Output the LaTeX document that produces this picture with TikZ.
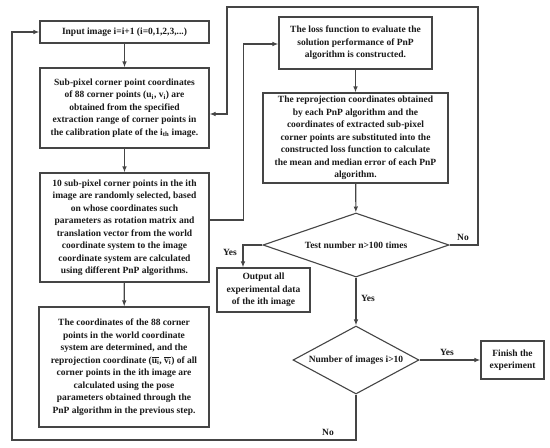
\documentclass[tikz,border=0pt]{standalone}
\usepackage{fontspec}
\setmainfont{Liberation Serif}
\usetikzlibrary{arrows.meta,shapes.geometric,calc}
\definecolor{ln}{HTML}{454545}
\definecolor{tx}{HTML}{1A1A1A}
\begin{document}
\begin{tikzpicture}[x=1pt,y=-1pt,
  font=\fontsize{9.5}{12.5}\selectfont\bfseries,
  box/.style={draw=ln,line width=1.1pt,rectangle,align=center,text=tx,inner sep=1pt},
  dia/.style={draw=ln,line width=1.1pt,diamond,align=center,text=tx,inner sep=0pt},
  arr/.style={draw=ln,line width=1.1pt,-{Latex[length=6pt,width=4.5pt]}},
  lab/.style={text=tx,inner sep=0pt}]
\useasboundingbox (0,0) rectangle (550,448);
\fill[white] (0,0) rectangle (550,448);

\node[box,minimum width=169pt,minimum height=22pt] (b1) at (124.5,32) {Input image i=i+1 (i=0,1,2,3,...)};
\node[box,minimum width=169pt,minimum height=80pt] (b2) at (124.5,108)
 {Sub-pixel corner point coordinates\\ of 88 corner points (u\textsubscript{i}, v\textsubscript{i}) are\\ obtained from the specified\\ extraction range of corner points in\\ the calibration plate of the i\textsubscript{th} image.};
\node[box,minimum width=169pt,minimum height=109pt] (b3) at (124.5,227.5)
 {10 sub-pixel corner points in the ith\\ image are randomly selected, based\\ on whose coordinates such\\ parameters as rotation matrix and\\ translation vector from the world\\ coordinate system to the image\\ coordinate system are calculated\\ using different PnP algorithms.};
\node[box,minimum width=170pt,minimum height=120pt] (b4) at (124,367)
 {The coordinates of the 88 corner\\ points in the world coordinate\\ system are determined, and the\\ reprojection coordinate ($\overline{\hbox{u\textsubscript{i}}}$, $\overline{\hbox{v\textsubscript{i}}}$) of all\\ corner points in the ith image are\\ calculated using the pose\\ parameters obtained through the\\ PnP algorithm in the previous step.};
\node[box,minimum width=153pt,minimum height=52pt] (loss) at (355.5,43)
 {The loss function to evaluate the\\ solution performance of PnP\\ algorithm is constructed.};
\node[box,minimum width=185pt,minimum height=90pt] (rep) at (355.5,138)
 {The reprojection coordinates obtained\\ by each PnP algorithm and the\\ coordinates of extracted sub-pixel\\ corner points are substituted into the\\ constructed loss function to calculate\\ the mean and median error of each PnP\\ algorithm.};
\node[dia,aspect=2.9,minimum width=186pt,minimum height=64pt] (d1) at (356,245) {Test number n>100 times};
\node[box,minimum width=93pt,minimum height=44pt] (out) at (263.5,290)
 {Output all\\ experimental data\\ of the ith image};
\node[dia,aspect=1.85,minimum width=126pt,minimum height=68pt] (d2) at (356,360) {Number of images i>10};
\node[box,minimum width=63pt,minimum height=38pt] (fin) at (512.5,360)
 {Finish the\\ experiment};

\coordinate (t1) at (478,7);
\coordinate (t2) at (227,7);
\coordinate (bl) at (12,440);

\draw[arr] (b1) -- (b2);
\draw[arr] (b2) -- (b3);
\draw[arr] (b3) -- (b4);
\draw[arr] (loss) -- (rep);
\draw[arr] (rep) -- (d1);
\draw[arr] ([yshift=7.5pt]b3.east) -- ++(34,0) |- ([yshift=-1pt]loss.west);
\draw[arr] (d1.east) -| (t1) -- (t2) |- ([yshift=-6pt]b2.east);
\draw[arr] (d1.west) -| ([xshift=-20.5pt]out.north);
\draw[arr] (d1) -- (d2);
\draw[arr] (d2) -- (fin);
\draw[arr] (d2.south) |- (bl) |- (b1.west);

\node[lab] (l1) at (463,237) {No};
\node[lab] (l2) at (230,252) {Yes};
\node[lab] (l3) at (368,298) {Yes};
\node[lab] (l4) at (447,352) {Yes};
\node[lab] (l5) at (328,432) {No};
\end{tikzpicture}
\end{document}
